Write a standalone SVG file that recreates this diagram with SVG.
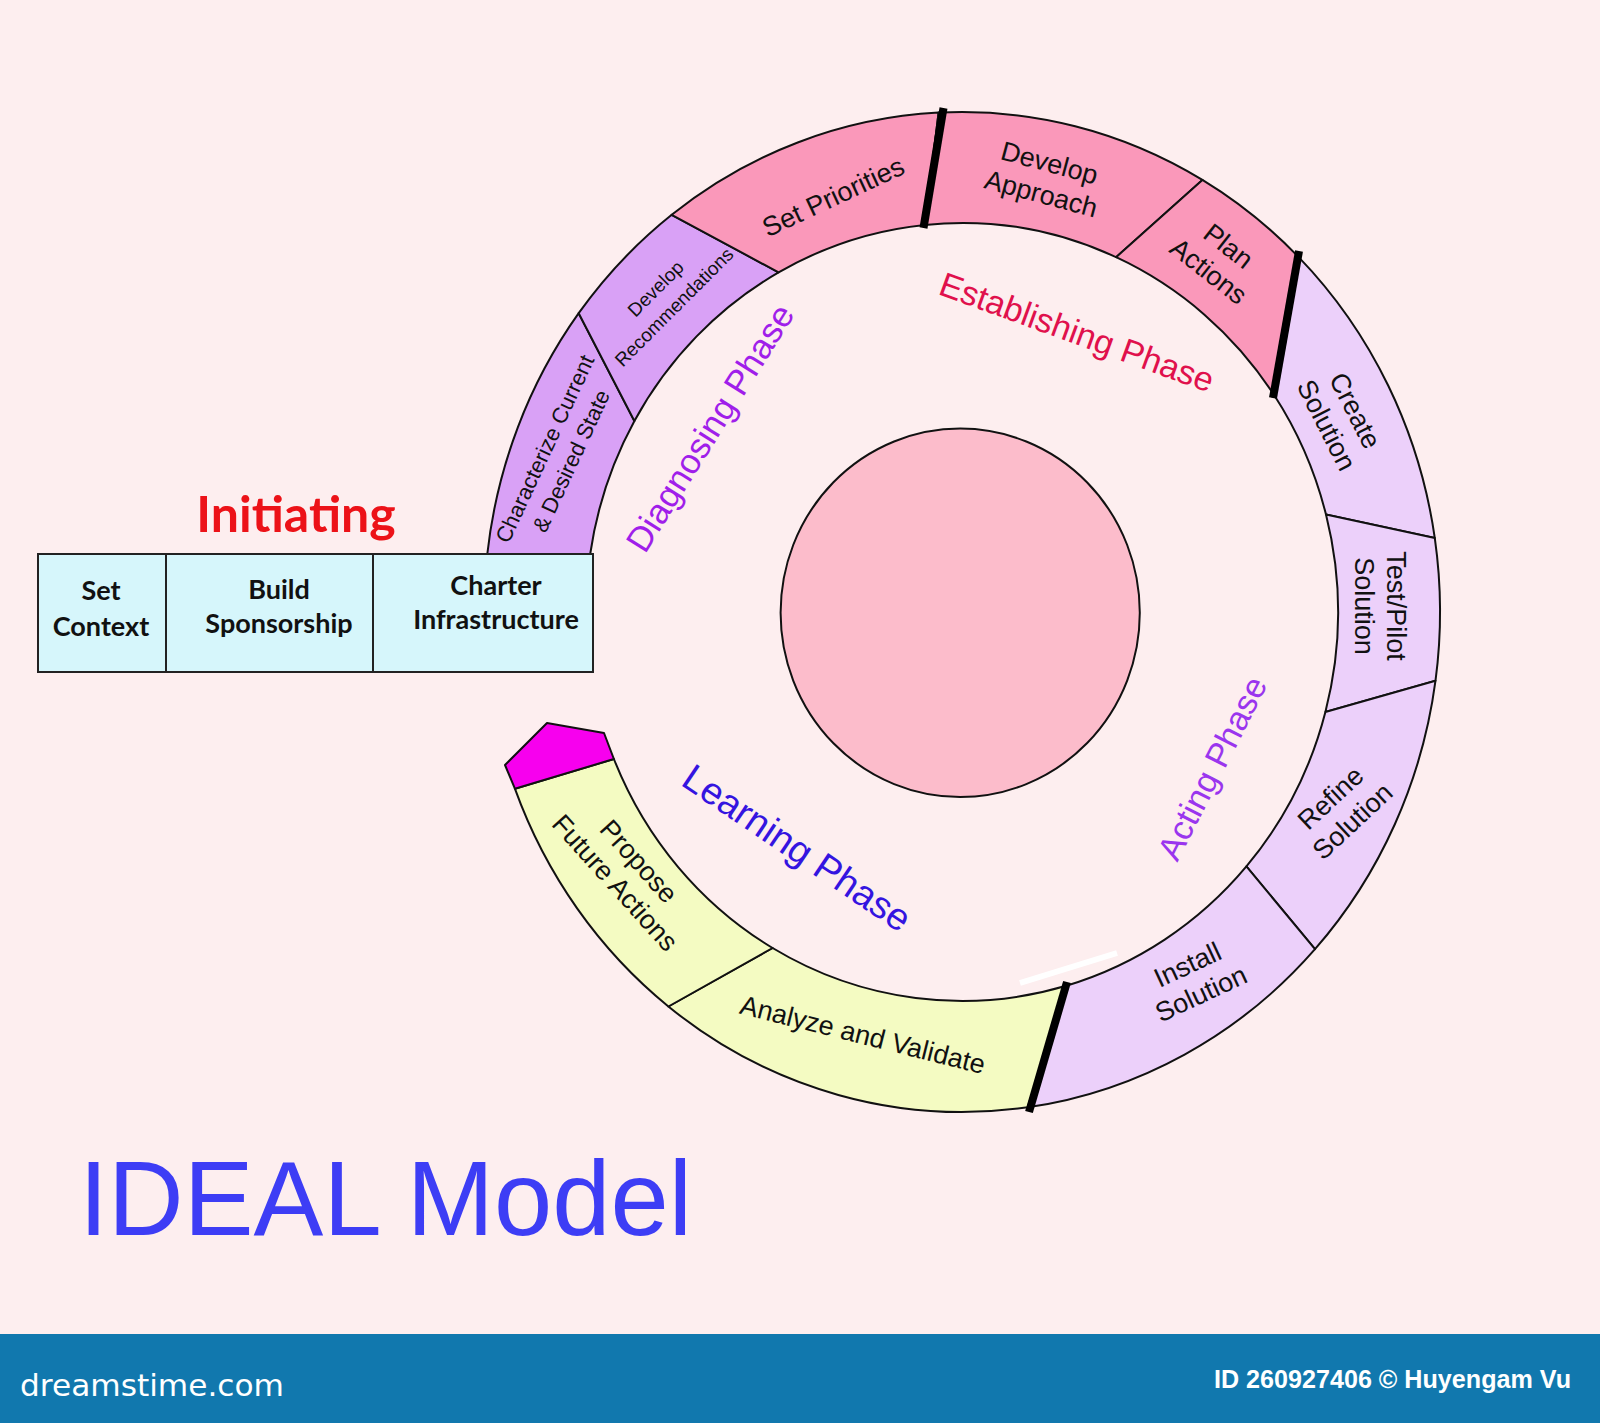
<svg xmlns="http://www.w3.org/2000/svg" width="1600" height="1423" viewBox="0 0 1600 1423">
<style>
.seg{stroke:#111;stroke-width:2;stroke-linejoin:round}
.est{fill:#FA98BA}
.dia{fill:#D9A1F6}
.act{fill:#ECD0FA}
.lrn{fill:#F4FBC2}
.thick{stroke:#000;stroke-width:8;fill:none}
.lbl{font-family:"Liberation Sans",Arial,sans-serif;font-size:27px;fill:#111;text-anchor:middle}
.phase{font-family:"Liberation Sans",Arial,sans-serif;font-size:34px;text-anchor:middle}
.box{fill:#D6F6FB;stroke:#222;stroke-width:2}
.btxt{font-family:Lato,"Open Sans",sans-serif;font-weight:700;font-size:27px;fill:#111;text-anchor:middle}
</style>
<rect x="0" y="0" width="1600" height="1423" fill="#FDEEEF"/>

<g id="center-circle">
<ellipse cx="960.2" cy="612.8" rx="179.6" ry="184.2" fill="#FCBCCB" stroke="#111" stroke-width="2"/>
</g>

<g id="characterize">
<path class="seg dia" d="M487.3,554 A478,500 0 0 1 578.7,313.2 L634.4,421 A376,389 0 0 0 590.2,554 Z"/>
<g transform="translate(558,455) rotate(-65)"><text class="lbl" style="font-size:22px" y="-7">Characterize Current</text><text class="lbl" style="font-size:22px" y="22">&amp; Desired State</text></g>
</g>
<g id="develop-recommendations">
<path class="seg dia" d="M578.7,313.2 A478,500 0 0 1 671.7,214.8 L778.6,272.4 A376,389 0 0 0 634.4,421 Z"/>
<g transform="translate(664.5,297.5) rotate(-45)"><text class="lbl" style="font-size:19px" y="-6">Develop</text><text class="lbl" style="font-size:19px" y="20">Recommendations</text></g>
</g>
<g id="set-priorities">
<path class="seg est" d="M671.7,214.8 A478,500 0 0 1 938.6,112.6 L924.7,224.9 A376,389 0 0 0 778.6,272.4 Z"/>
<g transform="translate(833,196) rotate(-25)"><text class="lbl" y="10">Set Priorities</text></g>
</g>
<g id="develop-approach">
<path class="seg est" d="M938.6,112.6 A478,500 0 0 1 1202.4,179.9 L1116.1,257.2 A376,389 0 0 0 924.7,224.9 Z"/>
<g transform="translate(1045.5,177.5) rotate(15)"><text class="lbl" y="-6">Develop</text><text class="lbl" y="26">Approach</text></g>
</g>
<g id="plan-actions">
<path class="seg est" d="M1202.4,179.9 A478,500 0 0 1 1298.2,256.6 L1274.1,395 A376,389 0 0 0 1116.1,257.2 Z"/>
<g transform="translate(1219,258) rotate(38)"><text class="lbl" y="-6">Plan</text><text class="lbl" y="26">Actions</text></g>
</g>
<g id="create-solution">
<path class="seg act" d="M1298.2,256.6 A478,500 0 0 1 1434.8,538.1 L1326,514.6 A376,389 0 0 0 1274.1,395 Z"/>
<g transform="translate(1341.5,417.5) rotate(63)"><text class="lbl" y="-6">Create</text><text class="lbl" y="26">Solution</text></g>
</g>
<g id="test-pilot-solution">
<path class="seg act" d="M1434.8,538.1 A478,500 0 0 1 1435.5,680.7 L1325.4,712 A376,389 0 0 0 1326,514.6 Z"/>
<g transform="translate(1380.5,606) rotate(90)"><text class="lbl" y="-6">Test/Pilot</text><text class="lbl" y="26">Solution</text></g>
</g>
<g id="refine-solution">
<path class="seg act" d="M1435.5,680.7 A478,500 0 0 1 1315,949.2 L1246.4,866.4 A376,389 0 0 0 1325.4,712 Z"/>
<g transform="translate(1341,809) rotate(-43)"><text class="lbl" y="-6">Refine</text><text class="lbl" y="26">Solution</text></g>
</g>
<g id="install-solution">
<path class="seg act" d="M1315,949.2 A478,500 0 0 1 1027.7,1107.3 L1066.3,985.7 A376,389 0 0 0 1246.4,866.4 Z"/>
<g transform="translate(1194,978.5) rotate(-25)"><text class="lbl" y="-6">Install</text><text class="lbl" y="26">Solution</text></g>
</g>
<g id="analyze-validate">
<path class="seg lrn" d="M1027.7,1107.3 A478,500 0 0 1 668.4,1006.5 L772.6,948 A376,389 0 0 0 1066.3,985.7 Z"/>
<g transform="translate(863,1034) rotate(14)"><text class="lbl" y="10">Analyze and Validate</text></g>
</g>
<g id="propose-future-actions">
<path class="seg lrn" d="M668.4,1006.5 A478,500 0 0 1 514.9,788.7 L613.9,759 A376,389 0 0 0 772.6,948 Z"/>
<path class="seg" fill="#F700EE" d="M514.9,788.7 L505,765 L547,723 L604,733 L613.9,759 Z"/>
<g transform="translate(627.5,871.5) rotate(48)"><text class="lbl" y="-6">Propose</text><text class="lbl" y="26">Future Actions</text></g>
</g>

<g id="connectors">
<line class="thick" x1="943.5" y1="108" x2="923.5" y2="228"/>
<line class="thick" x1="1299" y1="251" x2="1273" y2="398"/>
<line class="thick" x1="1029" y1="1112" x2="1067" y2="982"/>
<line x1="1020" y1="983" x2="1117" y2="953" stroke="#FFFFFF" stroke-width="6"/>
</g>

<g id="phase-labels">
<g transform="translate(1077,332) rotate(20)"><text class="phase" fill="#E0104C" y="12">Establishing Phase</text></g>
<g transform="translate(710,428) rotate(-58)"><text class="phase" fill="#A01EEA" y="12" style="font-size:35px">Diagnosing Phase</text></g>
<g transform="translate(1212,768) rotate(-63)"><text class="phase" fill="#9A35EE" y="12">Acting Phase</text></g>
<g transform="translate(797,848) rotate(34)"><text class="phase" fill="#3414E0" y="13" style="font-size:38px">Learning Phase</text></g>
</g>

<g id="initiating">
<text x="296" y="532" font-family="Lato,'Open Sans',sans-serif" font-weight="700" font-size="50" fill="#EC1218" text-anchor="middle">Initiating</text>
<g id="set-context"><rect class="box" x="38" y="554" width="128" height="118"/><text class="btxt" x="101" y="600">Set</text><text class="btxt" x="101" y="636">Context</text></g>
<g id="build-sponsorship"><rect class="box" x="166" y="554" width="207" height="118"/><text class="btxt" x="279" y="599">Build</text><text class="btxt" x="279" y="633">Sponsorship</text></g>
<g id="charter-infrastructure"><rect class="box" x="373" y="554" width="220" height="118"/><text class="btxt" x="496" y="595">Charter</text><text class="btxt" x="496" y="629">Infrastructure</text></g>
</g>

<g id="title">
<text x="79" y="1235" font-family="'Liberation Sans',Arial,sans-serif" font-size="106" fill="#3D3DF5" textLength="613" lengthAdjust="spacingAndGlyphs">IDEAL Model</text>
</g>

<g id="footer">
<rect x="0" y="1334" width="1600" height="89" fill="#1178AE"/>
<text x="20" y="1396" font-family="'DejaVu Sans',sans-serif" font-size="30" fill="#FFFFFF" textLength="264" lengthAdjust="spacingAndGlyphs">dreamstime.com</text>
<text x="1571" y="1388" font-family="'Liberation Sans',Arial,sans-serif" font-weight="700" font-size="25" fill="#FFFFFF" text-anchor="end" textLength="357" lengthAdjust="spacingAndGlyphs">ID 260927406 © Huyengam Vu</text>
</g>
</svg>
